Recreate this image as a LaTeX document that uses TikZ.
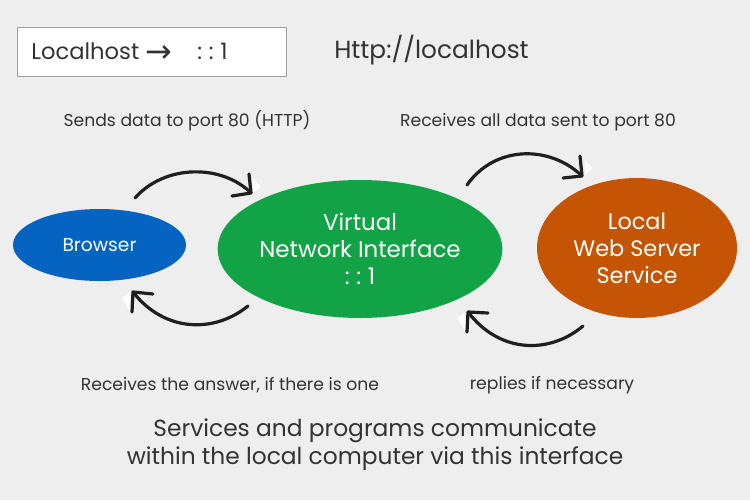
\documentclass[tikz,border=0pt]{standalone}
\usepackage{fontspec}
\setmainfont{Poppins}
\newfontfamily\arrowfont{DejaVu Sans}
\usetikzlibrary{shapes.geometric}
\definecolor{bggray}{HTML}{EEEEEE}
\definecolor{boxgray}{HTML}{A0A0A0}
\definecolor{inkgray}{HTML}{333333}
\definecolor{browserblue}{HTML}{0563C1}
\definecolor{netgreen}{HTML}{12A347}
\definecolor{serverorange}{HTML}{C55404}
\tikzset{
  blob/.style={ellipse,inner sep=0pt,text=white,align=center},
  caption/.style={text=inkgray,font=\fontsize{12.9}{15}\selectfont,inner sep=0pt},
  hosttype/.style={anchor=west,text=inkgray,inner sep=0pt,font=\fontsize{17}{20}\selectfont},
  flow/.style={line width=2.4pt,color=black!88,line cap=round,line join=round},
  glint/.style={fill=white,draw=none}
}
\begin{document}
\begin{tikzpicture}[x=0.75pt,y=-0.75pt]
\useasboundingbox(0,0)rectangle(750,500);
\fill[bggray](0,0)rectangle(750,500);
\node(hostbox)[draw=boxgray,fill=white,line width=0.75pt,minimum width=201.75pt,minimum height=36.75pt,inner sep=0pt]at(152,51.5){};
\node(hosttext)[hosttype]at(31,51.5){Localhost};
\node(hostarrow)[hosttype,font=\arrowfont\fontsize{24}{24}\selectfont]at(145,54.5){→};
\node(hostip)[hosttype]at(197,51.5){:\kern5pt:\kern5pt1};
\node(urltext)[hosttype,font=\fontsize{18.6}{22}\selectfont]at(334,50){Http://localhost};
% ellipses
\node(browser)[blob,fill=browserblue,minimum width=129.75pt,minimum height=54pt,font=\fontsize{14}{17}\selectfont]at(99.5,245){Browser};
\node(vnic)[blob,fill=netgreen,minimum width=213pt,minimum height=103.5pt,font=\fontsize{17.2}{20.25}\selectfont]at(360,249){Virtual\\Network Interface\\:\kern5pt:\kern5pt1};
\node(server)[blob,fill=serverorange,minimum width=150pt,minimum height=105pt,font=\fontsize{16.8}{20.25}\selectfont]at(637,248){Local\\Web Server\\Service};
% labels
\node(sendtext)[caption]at(187,121){Sends data to port 80 (HTTP)};
\node(recvtext)[caption]at(538,122){Receives all data sent to port 80};
\node(answertext)[caption]at(230,385){Receives the answer, if there is one};
\node(replytext)[caption]at(552,385){replies if necessary};
\node(summary)[text=inkgray,align=center,inner sep=0pt,font=\fontsize{17.5}{21}\selectfont]at(375,445){Services and programs communicate\\within the local computer via this interface};
% arrows
\coordinate(a1)at(135,198);\coordinate(b1)at(251,193);
\coordinate(a2)at(248,306);\coordinate(b2)at(133,292);
\coordinate(a3)at(467,185);\coordinate(b3)at(582,176);
\coordinate(a4)at(583,326);\coordinate(b4)at(468,312);
\fill[glint](253,178)--(261,187)--(253,193)--cycle;
\fill[glint](130,292)--(122,298)--(130,312)--cycle;
\fill[glint](585,160)--(592,168)--(585,175)--cycle;
\fill[glint](465,312)--(457,318)--(466,332)--cycle;
\draw[flow](a1)..controls(165,164)and(222,164)..(b1);
\draw[flow](249,174)--(b1)--(232,196);
\draw[flow](a2)..controls(215,333)and(165,333)..(b2);
\draw[flow](153,294)--(b2)--(132,312);
\draw[flow](a3)..controls(495,145)and(550,145)..(b3);
\draw[flow](580,156)--(b3)--(563,178);
\draw[flow](a4)..controls(550,354)and(500,354)..(b4);
\draw[flow](488,313)--(b4)--(467,332);
\end{tikzpicture}
\end{document}
